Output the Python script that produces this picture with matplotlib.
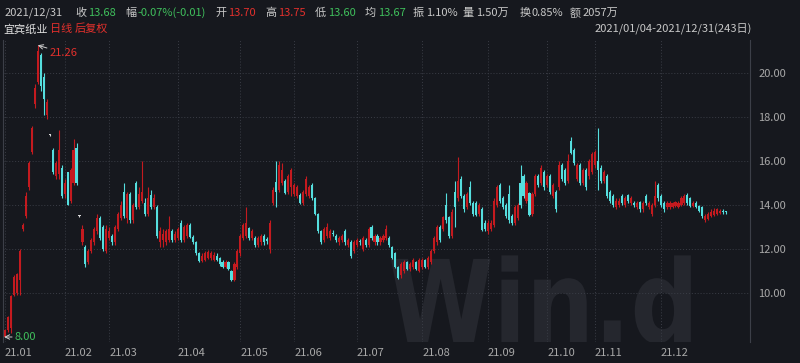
import numpy as np
import matplotlib.pyplot as plt
import matplotlib.transforms as mtransforms
from matplotlib.textpath import TextPath
from matplotlib.patches import PathPatch
from matplotlib.font_manager import FontProperties

plt.rcParams['font.family'] = ['Noto Sans CJK SC', 'DejaVu Sans']

# daily candles (open, high, low, close), one list per month
jan = [(8.00, 8.35, 8.00, 8.30), (8.30, 8.95, 8.25, 8.90), (8.40, 9.90, 8.20, 9.85),
       (9.90, 10.80, 9.85, 10.75), (10.00, 10.90, 9.90, 10.85), (10.60, 12.00, 9.90, 11.90),
       (12.90, 13.20, 12.80, 13.10), (13.50, 14.60, 13.40, 14.40), (14.80, 16.00, 14.70, 15.90),
       (16.40, 17.60, 16.30, 17.50), (18.60, 19.50, 18.40, 19.30), (19.60, 21.26, 19.50, 21.00),
       (20.80, 20.90, 19.20, 19.40), (19.80, 20.00, 18.10, 18.80), (18.10, 18.80, 17.90, 18.70),
       (17.20, 17.25, 17.15, 17.20), (16.50, 16.60, 15.40, 15.50), (15.30, 16.00, 15.20, 15.90),
       (15.40, 17.40, 15.20, 16.50), (15.70, 15.80, 14.30, 14.40)]
feb = [(14.50, 15.20, 14.30, 15.00), (15.50, 15.50, 14.00, 14.00), (14.20, 15.70, 14.10, 15.60),
       (15.00, 17.00, 14.90, 16.50), (16.60, 16.80, 14.90, 15.00), (13.50, 13.55, 13.45, 13.50),
       (12.30, 13.10, 12.20, 12.90), (12.10, 12.20, 11.20, 11.30), (11.40, 12.00, 11.30, 11.90),
       (11.90, 12.50, 11.80, 12.40), (12.30, 13.00, 12.20, 12.90), (12.80, 13.60, 12.70, 13.40),
       (13.40, 13.50, 12.40, 12.50), (13.00, 13.10, 11.90, 12.00), (11.90, 13.10, 11.80, 12.90)]
mar = [(12.50, 13.00, 12.40, 12.80), (12.60, 12.70, 12.20, 12.30), (12.30, 13.10, 12.20, 13.00),
       (12.90, 13.70, 12.80, 13.60), (13.40, 14.20, 13.30, 14.00), (14.60, 15.00, 13.40, 13.50),
       (13.40, 14.60, 13.20, 14.50), (14.50, 14.60, 13.20, 13.30), (13.30, 14.10, 13.20, 14.00),
       (15.00, 15.10, 13.80, 13.90), (13.90, 14.80, 13.80, 14.50), (14.20, 16.00, 14.10, 14.60),
       (14.10, 14.30, 13.50, 13.60), (13.60, 14.80, 13.50, 14.30), (14.45, 14.70, 13.80, 13.90),
       (13.90, 14.50, 13.80, 14.30), (13.90, 14.00, 12.50, 12.60), (12.30, 13.00, 12.10, 12.80),
       (12.40, 12.90, 12.10, 12.70), (12.30, 12.90, 12.20, 12.80), (12.40, 13.50, 12.30, 12.90),
       (12.80, 12.90, 12.30, 12.40), (12.40, 12.80, 12.30, 12.70)]
apr = [(12.50, 13.00, 12.40, 12.90), (13.20, 13.30, 12.30, 12.40), (12.40, 13.10, 12.30, 13.00),
       (12.60, 13.20, 12.50, 13.10), (13.10, 13.20, 12.50, 12.55), (12.55, 12.65, 12.25, 12.30),
       (12.30, 12.35, 11.75, 11.80), (11.80, 11.85, 11.40, 11.45), (11.45, 11.80, 11.40, 11.70),
       (11.50, 11.90, 11.45, 11.80), (11.60, 11.95, 11.55, 11.85), (11.60, 11.90, 11.50, 11.80),
       (11.50, 11.85, 11.45, 11.75), (11.70, 11.80, 11.45, 11.50), (11.60, 11.65, 11.25, 11.30),
       (11.40, 11.50, 11.15, 11.20), (11.20, 11.50, 11.15, 11.40), (11.40, 11.45, 11.05, 11.10),
       (11.00, 11.05, 10.55, 10.60), (10.60, 11.40, 10.55, 11.30), (11.20, 12.00, 11.10, 11.90)]
may = [(11.80, 12.70, 11.70, 12.60), (12.50, 13.20, 12.40, 13.10), (12.60, 13.90, 12.50, 13.20),
       (12.95, 13.00, 12.40, 12.50), (12.50, 12.90, 12.40, 12.80), (12.50, 12.60, 12.10, 12.20),
       (12.20, 12.60, 12.10, 12.50), (12.30, 12.70, 12.20, 12.60), (12.60, 12.70, 12.20, 12.30),
       (12.45, 12.55, 12.25, 12.35), (12.00, 13.30, 11.80, 13.20), (14.10, 14.80, 14.00, 14.70),
       (15.05, 16.00, 13.90, 14.60), (14.70, 16.00, 14.60, 15.80), (15.00, 15.90, 14.90, 15.60),
       (15.10, 15.20, 14.50, 14.55), (14.60, 15.40, 14.50, 15.30), (14.80, 15.70, 14.40, 15.60)]
jun = [(14.50, 15.00, 14.40, 14.90), (14.40, 14.90, 14.30, 14.80), (14.45, 14.55, 14.05, 14.10),
       (14.10, 14.70, 14.00, 14.60), (14.50, 15.30, 14.40, 15.20), (14.40, 14.90, 14.30, 14.80),
       (14.90, 15.00, 14.25, 14.30), (14.30, 14.35, 13.55, 13.60), (13.60, 13.65, 12.75, 12.80),
       (12.80, 12.85, 12.25, 12.30), (12.40, 13.00, 12.30, 12.90), (12.60, 13.20, 12.50, 13.00),
       (12.50, 12.90, 12.40, 12.80), (12.75, 12.85, 12.60, 12.70), (12.60, 12.70, 12.30, 12.40),
       (12.30, 12.60, 12.20, 12.50), (12.40, 12.70, 12.30, 12.60), (12.80, 12.90, 12.20, 12.30),
       (12.20, 12.50, 12.10, 12.40), (12.30, 12.40, 11.60, 11.70), (11.90, 12.40, 11.80, 12.30)]
jul = [(12.20, 12.50, 12.10, 12.40), (12.35, 12.45, 12.20, 12.30), (12.00, 12.60, 11.90, 12.50),
       (12.40, 12.50, 12.10, 12.20), (12.20, 13.00, 12.10, 12.90), (13.00, 13.10, 12.40, 12.50),
       (12.30, 12.70, 12.20, 12.60), (12.60, 12.70, 12.20, 12.30), (12.30, 12.60, 12.20, 12.50),
       (12.40, 12.70, 12.30, 12.60), (12.50, 13.10, 12.40, 12.90), (12.50, 12.60, 12.10, 12.20),
       (12.10, 12.15, 11.55, 11.60), (11.80, 11.85, 11.15, 11.20), (11.20, 11.25, 10.65, 10.70),
       (10.80, 11.40, 10.70, 11.30), (11.00, 11.50, 10.90, 11.40), (11.40, 11.45, 11.05, 11.10),
       (11.10, 11.40, 11.00, 11.30), (11.20, 11.60, 11.10, 11.50), (11.40, 11.45, 11.05, 11.10),
       (11.00, 11.60, 10.95, 11.50)]
aug = [(11.20, 11.60, 11.10, 11.50), (11.50, 11.55, 11.15, 11.20), (11.20, 11.70, 11.10, 11.60),
       (11.40, 12.00, 11.30, 11.90), (11.90, 12.60, 11.80, 12.50), (12.30, 13.10, 12.20, 13.00),
       (13.00, 13.10, 12.30, 12.40), (12.90, 13.50, 12.80, 13.45), (14.00, 14.55, 13.20, 13.30),
       (13.45, 13.50, 12.50, 12.60), (12.60, 13.80, 12.50, 13.70), (14.60, 15.10, 13.00, 13.90),
       (14.30, 16.20, 14.20, 15.10), (15.20, 15.30, 14.30, 14.40), (14.40, 14.50, 13.70, 13.80),
       (13.90, 14.60, 13.80, 14.50), (14.80, 15.10, 14.00, 14.10), (14.10, 14.20, 13.50, 13.60),
       (14.10, 14.20, 13.50, 13.55), (13.60, 14.10, 13.50, 14.00), (13.80, 13.90, 12.80, 12.85),
       (13.20, 13.30, 12.80, 12.90)]
sep = [(12.80, 13.30, 12.70, 13.20), (12.90, 13.30, 12.80, 13.20), (13.10, 14.30, 13.00, 14.20),
       (14.00, 14.90, 13.90, 14.80), (14.90, 15.00, 14.10, 14.20), (14.30, 14.40, 13.80, 13.90),
       (14.00, 14.10, 13.40, 13.50), (14.50, 14.90, 13.20, 13.30), (13.50, 13.60, 13.10, 13.20),
       (13.20, 14.00, 13.10, 13.90), (13.40, 14.10, 13.30, 14.00), (15.00, 15.80, 13.85, 14.00),
       (15.30, 15.40, 14.30, 14.40), (14.20, 15.10, 14.10, 15.00), (14.55, 14.60, 13.50, 13.55),
       (13.60, 14.60, 13.50, 14.50), (14.50, 15.40, 14.40, 15.30), (15.30, 15.40, 14.80, 14.90),
       (15.00, 15.80, 14.90, 15.70), (15.50, 15.60, 14.70, 14.80)]
oct_ = [(14.90, 15.40, 14.80, 15.30), (15.30, 15.40, 14.50, 14.60), (14.40, 15.00, 14.30, 14.90),
        (14.60, 14.70, 13.70, 13.80), (14.80, 16.00, 14.70, 15.80), (15.80, 15.90, 15.10, 15.20),
        (15.60, 15.70, 14.90, 15.00), (15.10, 16.30, 15.00, 16.00), (16.90, 17.10, 16.30, 16.35),
        (16.50, 16.60, 15.80, 15.90), (15.20, 15.90, 15.10, 15.80), (15.80, 15.90, 14.90, 15.00),
        (15.00, 15.70, 14.90, 15.60), (15.60, 15.70, 14.70, 14.80), (15.30, 16.10, 15.20, 16.00),
        (15.50, 16.40, 15.40, 16.30)]
nov = [(15.80, 16.50, 15.70, 16.40), (16.00, 17.50, 14.70, 15.60), (15.70, 15.80, 15.00, 15.10),
       (15.10, 15.60, 15.00, 15.50), (15.30, 15.40, 14.30, 14.40), (14.60, 14.70, 14.10, 14.20),
       (14.40, 14.50, 13.90, 14.00), (13.90, 14.30, 13.80, 14.20), (14.00, 14.30, 13.90, 14.20),
       (14.40, 14.50, 14.00, 14.10), (14.00, 14.40, 13.90, 14.30), (14.45, 14.50, 14.10, 14.20),
       (14.10, 14.40, 14.00, 14.30), (14.10, 14.20, 13.90, 14.00), (13.90, 14.20, 13.80, 14.10),
       (14.15, 14.20, 13.70, 13.80), (13.80, 14.20, 13.70, 14.10), (14.40, 14.50, 14.00, 14.10),
       (13.90, 14.20, 13.80, 14.10), (13.60, 14.10, 13.50, 14.00), (14.00, 15.10, 13.90, 14.40),
       (14.90, 15.00, 14.20, 14.30)]
dec = [(14.40, 14.50, 13.90, 14.00), (14.10, 14.20, 13.70, 13.80), (13.90, 14.20, 13.80, 14.10),
       (13.90, 14.20, 13.80, 14.10), (13.90, 14.15, 13.85, 14.10), (13.95, 14.20, 13.90, 14.15),
       (13.90, 14.20, 13.85, 14.10), (14.00, 14.40, 13.95, 14.30), (14.10, 14.50, 14.00, 14.40),
       (14.45, 14.55, 14.00, 14.10), (14.30, 14.35, 13.90, 13.95), (13.95, 14.20, 13.90, 14.10),
       (14.10, 14.20, 13.85, 13.90), (13.95, 14.00, 13.70, 13.75), (13.90, 13.95, 13.40, 13.50),
       (13.30, 13.60, 13.25, 13.50), (13.35, 13.70, 13.30, 13.60), (13.50, 13.80, 13.45, 13.70),
       (13.55, 13.85, 13.50, 13.75), (13.60, 13.85, 13.55, 13.80), (13.65, 13.80, 13.60, 13.72),
       (13.75, 13.80, 13.60, 13.69), (13.70, 13.75, 13.60, 13.68)]

months = [jan, feb, mar, apr, may, jun, jul, aug, sep, oct_, nov, dec]
month_labels = ['21.01', '21.02', '21.03', '21.04', '21.05', '21.06',
                '21.07', '21.08', '21.09', '21.10', '21.11', '21.12']
y_ticks = [10, 12, 14, 16, 18, 20]

ohlc = np.array([c for m in months for c in m])
o, h, l, c = ohlc.T
x = np.arange(len(ohlc))
month_start = np.cumsum([0] + [len(m) for m in months[:-1]])

bg = '#16181e'
red = '#c41a1f'
cyan = '#55dede'
flat = '#d8d8d8'
grid_c = '#3a3d46'
txt = '#c8c8c8'
green = '#3fbf5c'
hred = '#e2302c'

fig = plt.figure(figsize=(8, 3.63), dpi=100, facecolor=bg)
ax = fig.add_axes([3 / 800, 21 / 363, 747 / 800, 302 / 363])
ax.set_facecolor(bg)

# watermark
fp = FontProperties(family='DejaVu Sans', weight='bold')
tp = TextPath((0, 0), 'Win.d', size=1, prop=fp)
ext = tp.get_extents()
sx = (300 / 747) / ext.width
sy = 114 / 302
tr = mtransforms.Affine2D().scale(sx, sy).translate((388 - 3) / 747, 0) + ax.transAxes
ax.add_patch(PathPatch(tp, transform=tr, facecolor='#25272e', edgecolor='none', zorder=0))

colors = np.where(c > o, red, np.where(c < o, cyan, flat))
ax.vlines(x, l, h, colors=colors, linewidth=0.8, zorder=2)
body = np.maximum(np.abs(c - o), 0.04)
ax.bar(x, body, bottom=np.minimum(o, c), width=0.7, color=colors, linewidth=0, zorder=3)

ax.set_xlim(-0.67, 250)
ax.set_ylim(7.773, 21.5)

ax.set_yticks(y_ticks)
ax.set_yticklabels([f'{v:.2f}' for v in y_ticks])
ax.yaxis.tick_right()
ax.set_xticks(month_start)
ax.set_xticklabels(month_labels, ha='left')
ax.tick_params(axis='both', length=0, colors='#a8a8a8', labelsize=8)
ax.tick_params(axis='y', pad=6)
ax.tick_params(axis='x', pad=4)

ax.grid(True, color=grid_c, linestyle=(0, (1, 2)), linewidth=0.7, zorder=1)
ax.set_axisbelow(True)
for s in ['top', 'bottom']:
    ax.spines[s].set_visible(False)
for s in ['left', 'right']:
    ax.spines[s].set_color('#3c3f48')
    ax.spines[s].set_linewidth(0.8)

# high / low markers
imax = int(np.argmax(h))
imin = int(np.argmin(l))
ax.annotate(f'{h[imax]:.2f}', xy=(imax, h[imax]), xytext=(imax + 4, h[imax] - 0.35),
            color=hred, fontsize=8, va='center',
            arrowprops=dict(arrowstyle='->', color='#d0d0d0', lw=0.7, shrinkA=0, shrinkB=0))
ax.annotate(f'{l[imin]:.2f}', xy=(imin - 0.3, l[imin]), xytext=(imin + 3.3, l[imin]),
            color=green, fontsize=8, va='center',
            arrowprops=dict(arrowstyle='->', color='#d0d0d0', lw=0.7, shrinkA=0, shrinkB=0))

# header
y1 = 1 - 13 / 363
y2 = 1 - 29 / 363
hdr = [(5, '2021/12/31', txt), (75, '收', txt), (88, '13.68', green),
       (125, '幅', txt), (137, '-0.07%(-0.01)', green), (215, '开', txt), (228, '13.70', hred),
       (265, '高', txt), (278, '13.75', hred), (315, '低', txt), (328, '13.60', green),
       (365, '均', txt), (378, '13.67', green), (413, '振', txt), (426, '1.10%', txt),
       (462, '量', txt), (476, '1.50万', txt), (520, '换', txt), (532, '0.85%', txt),
       (570, '额', txt), (583, '2057万', txt)]
for px, s, col in hdr:
    fig.text(px / 800, y1, s, color=col, fontsize=8, va='center', ha='left')
fig.text(3 / 800, y2, '宜宾纸业', color='#e0e0e0', fontsize=8, va='center')
fig.text(50 / 800, y2, '日线', color=hred, fontsize=8, va='center')
fig.text(75 / 800, y2, '后复权', color=hred, fontsize=8, va='center')
fig.text(752 / 800, y2, '2021/01/04-2021/12/31(243日)', color=txt, fontsize=8,
         va='center', ha='right')

fig.savefig('out.png', dpi=100, facecolor=bg)
